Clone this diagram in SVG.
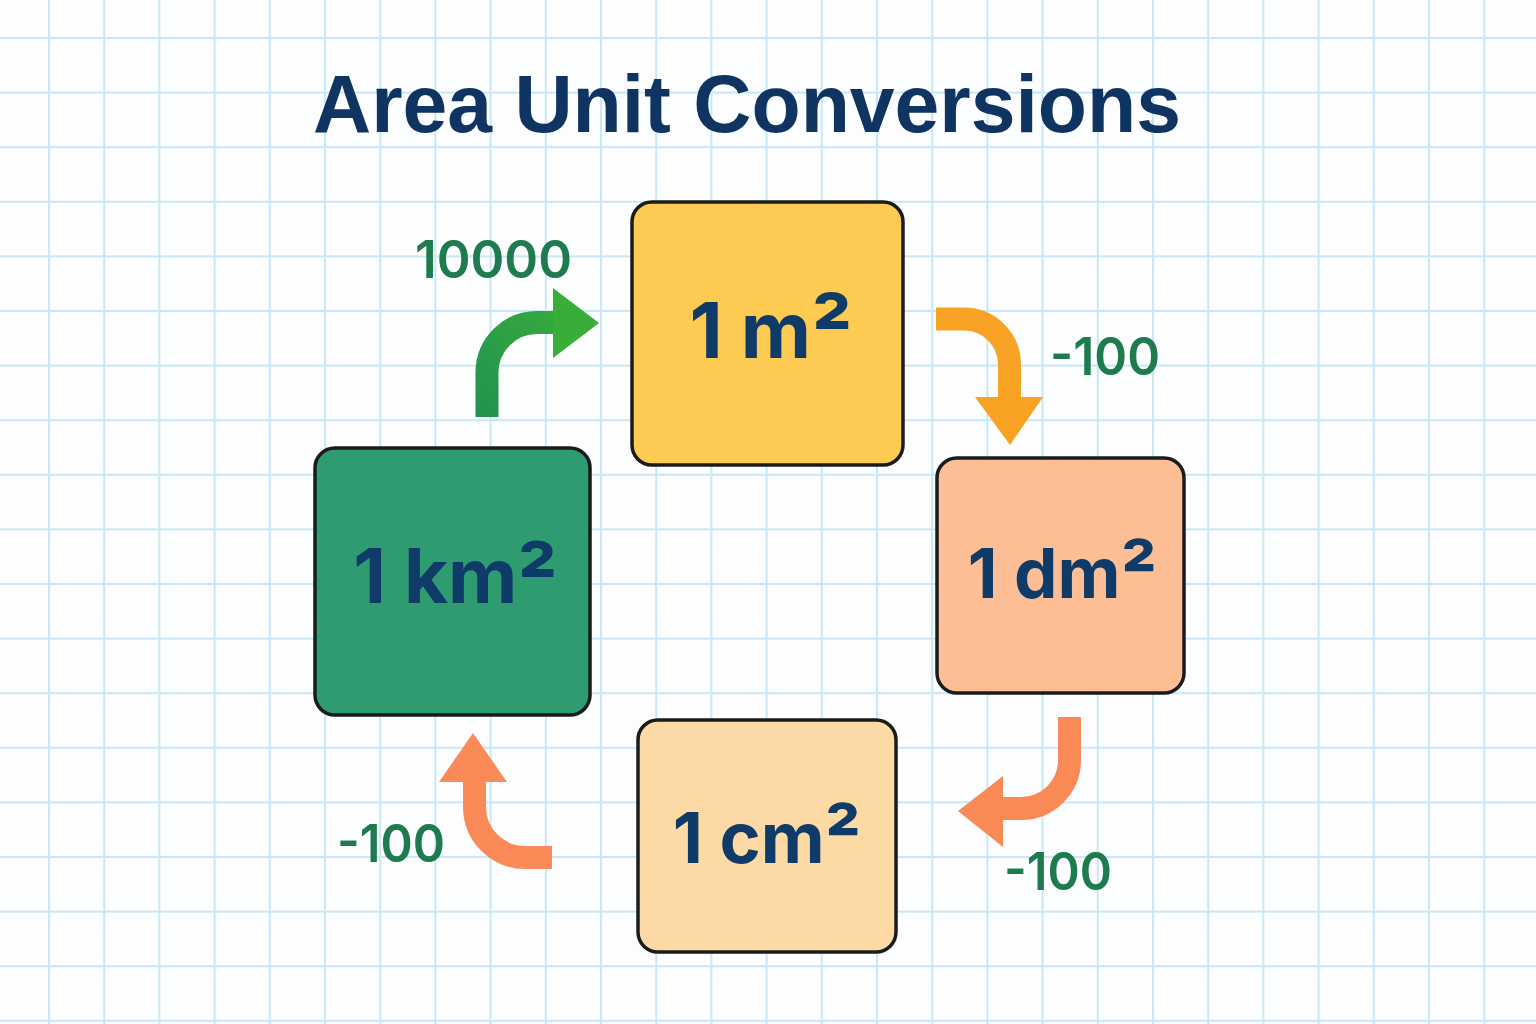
<svg xmlns="http://www.w3.org/2000/svg" width="1536" height="1024" viewBox="0 0 1536 1024">
  <defs>
    <pattern id="grid" patternUnits="userSpaceOnUse" x="48" y="37" width="55.2" height="54.6">
      <path d="M1,0 V54.6 M0,1 H55.2" fill="none" stroke="#C8E7F7" stroke-width="2"/>
    </pattern>
    <linearGradient id="gGreen" x1="476" y1="417" x2="599" y2="300" gradientUnits="userSpaceOnUse">
      <stop offset="0" stop-color="#22924F"/>
      <stop offset="1" stop-color="#3BB03A"/>
    </linearGradient>
    <style>
      .box { stroke: #1B1B1B; stroke-width: 3.5; }
      .lbl { font-family: Inter, "Noto Sans", sans-serif; font-weight: 700; fill: #0E3B67; text-anchor: middle; }
      .num { font-family: Inter, "Noto Sans", sans-serif; font-weight: 600; fill: #1E7B4E; font-size: 52px; }
      .title { font-family: "Liberation Sans", Arial, sans-serif; font-weight: 700; fill: #0F3461; font-size: 81px; }
    </style>
  </defs>

  <rect width="1536" height="1024" fill="#FBFDFE"/>
  <rect width="1536" height="1024" fill="url(#grid)"/>

  <text class="title" x="313" y="132" textLength="868" lengthAdjust="spacingAndGlyphs">Area Unit Conversions</text>

  <g id="connectors">
    <g id="c-km-m">
      <path d="M487,417 L487,372 A50,50 0 0 1 537,322.5 L556,322.5" fill="none" stroke="url(#gGreen)" stroke-width="23"/>
      <polygon points="553,288 599,323 553,358" fill="#38AD3A"/>
      <text class="num" x="415" y="278" textLength="157" lengthAdjust="spacingAndGlyphs">10000</text>
    </g>
    <g id="c-m-dm">
      <path d="M936,319 L964,319 A45.5,45.5 0 0 1 1009.5,364.5 L1009.5,399" fill="none" stroke="#F8A324" stroke-width="23"/>
      <polygon points="975,397 1043,397 1010,445" fill="#F8A324"/>
      <text class="num" x="1050" y="375" textLength="110" lengthAdjust="spacingAndGlyphs">-100</text>
    </g>
    <g id="c-dm-cm">
      <path d="M1069.5,717 L1069.5,760 A48.5,48.5 0 0 1 1021,808.5 L1001,808.5" fill="none" stroke="#F98A55" stroke-width="23"/>
      <polygon points="1003,776 1003,847 958,811" fill="#F98A55"/>
      <text class="num" x="1004" y="890" textLength="108" lengthAdjust="spacingAndGlyphs">-100</text>
    </g>
    <g id="c-cm-km">
      <path d="M552,857.5 L525,857.5 A50.5,50.5 0 0 1 474.5,807 L474.5,780" fill="none" stroke="#FA8A58" stroke-width="23"/>
      <polygon points="439,782 507,782 473,733" fill="#FA8A58"/>
      <text class="num" x="337" y="862" textLength="108" lengthAdjust="spacingAndGlyphs">-100</text>
    </g>
  </g>

  <g id="node-m2">
    <rect class="box" x="632" y="202" width="271" height="263" rx="20" fill="#FDCB51"/>
    <text class="lbl" x="771" y="358" font-size="77">1 m<tspan font-size="90" dy="10">²</tspan></text>
  </g>
  <g id="node-km2">
    <rect class="box" x="315" y="448" width="275" height="267" rx="20" fill="#2E9B70"/>
    <text class="lbl" x="455.5" y="603" font-size="76">1 km<tspan font-size="88" dy="12">²</tspan></text>
  </g>
  <g id="node-dm2">
    <rect class="box" x="937" y="458" width="247" height="235" rx="20" fill="#FDBE95"/>
    <text class="lbl" x="1062.5" y="598" font-size="69">1 dm<tspan font-size="80" dy="8">²</tspan></text>
  </g>
  <g id="node-cm2">
    <rect class="box" x="638" y="720" width="258" height="232" rx="20" fill="#FDD9A6"/>
    <text class="lbl" x="767" y="863" font-size="70">1 cm<tspan font-size="80" dy="7">²</tspan></text>
  </g>
</svg>
